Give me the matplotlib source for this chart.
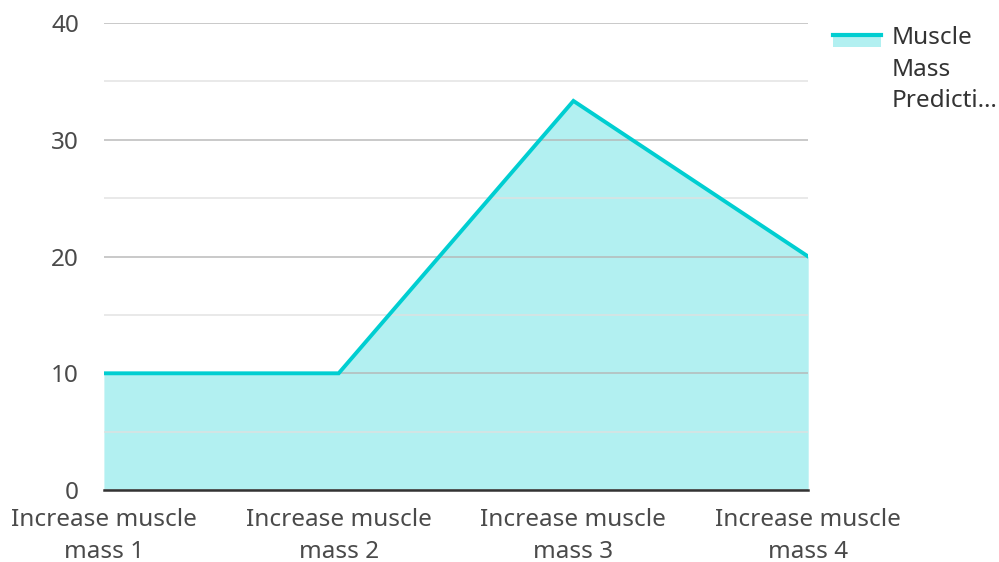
import matplotlib.pyplot as plt
from matplotlib.patches import Rectangle
from matplotlib.lines import Line2D
from matplotlib.ticker import MultipleLocator

# datos
categorias = ['Increase muscle\nmass 1', 'Increase muscle\nmass 2',
              'Increase muscle\nmass 3', 'Increase muscle\nmass 4']
prediccion = [10, 10, 33.33, 20]
nombre_serie = 'Muscle\nMass\nPredicti…'

color_linea = '#00CED1'
color_relleno = '#B2F0F1'
color_texto = '#4a4a4a'

plt.rcParams['font.family'] = ['Noto Sans', 'DejaVu Sans']

fig = plt.figure(figsize=(9.99, 5.62), dpi=100)
ax = fig.add_axes([0.104, 0.128, 0.705, 0.831])

x = range(len(categorias))
ax.fill_between(x, 0, prediccion, color=color_relleno, lw=0, zorder=1)
ax.plot(x, prediccion, color=color_linea, lw=2.8, zorder=4,
        solid_joinstyle='miter')

ax.set_xlim(0, len(categorias) - 1)
ax.set_ylim(0, 40)
ax.yaxis.set_major_locator(MultipleLocator(10))
ax.yaxis.set_minor_locator(MultipleLocator(5))
ax.grid(which='major', axis='y', color='#b5b5b5', lw=1.2, alpha=0.85, zorder=2)
ax.grid(which='minor', axis='y', color='#e0e0e0', lw=1.2, alpha=0.85, zorder=2)
ax.set_axisbelow(False)

ax.set_xticks(list(x))
ax.set_xticklabels(categorias, fontsize=17.5, color=color_texto,
                   linespacing=1.42)
ax.tick_params(axis='x', length=0, pad=13)
ax.tick_params(axis='y', which='both', length=0, pad=18,
               labelsize=17.5, labelcolor=color_texto)

for lado in ['top', 'right', 'left']:
    ax.spines[lado].set_visible(False)
ax.spines['bottom'].set_color('#333333')
ax.spines['bottom'].set_linewidth(1.8)
ax.spines['bottom'].set_zorder(5)

# leyenda a la derecha
fig.patches.append(Rectangle((833 / 999, 1 - 47 / 562), 48 / 999, 14 / 562,
                             transform=fig.transFigure, color=color_relleno,
                             lw=0))
fig.lines.append(Line2D([833 / 999, 881 / 999], [1 - 35 / 562, 1 - 35 / 562],
                        transform=fig.transFigure, color=color_linea, lw=3))
fig.text(892 / 999, 1 - 26 / 562, nombre_serie, fontsize=17.5, color='#333333',
         va='top', ha='left', linespacing=1.42)

plt.savefig('out.png')
plt.close()
